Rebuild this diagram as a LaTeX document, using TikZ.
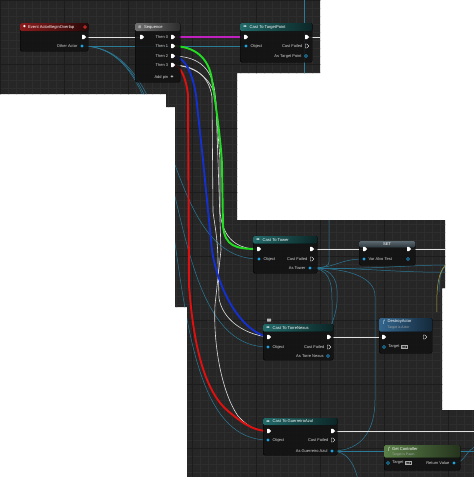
\documentclass[tikz,border=0pt]{standalone}
\usepackage{fontspec}
\setmainfont{Liberation Sans}
\newfontfamily\symfont{DejaVu Sans}
\usepackage{tikz}
\usetikzlibrary{positioning, calc, shapes.symbols}

\definecolor{bggrid}{HTML}{262626}
\definecolor{gridln}{HTML}{2D2D2D}
\definecolor{gridmaj}{HTML}{1C1C1C}
\definecolor{nodebg}{HTML}{131313}
\definecolor{pinblue}{HTML}{1FA3E0}
\definecolor{datawire}{HTML}{2B7A98}
\definecolor{labeltxt}{HTML}{D6D6D6}
\definecolor{evred}{HTML}{8A1C1C}
\definecolor{seqgray}{HTML}{707070}
\definecolor{castteal}{HTML}{226A6A}
\definecolor{setgray}{HTML}{4A5A62}
\definecolor{fnblue}{HTML}{33668F}
\definecolor{fngreen}{HTML}{5B8048}
\definecolor{wgreen}{HTML}{22DD22}
\definecolor{wblue}{HTML}{1530D0}
\definecolor{wred}{HTML}{E01010}
\definecolor{wmag}{HTML}{C020C0}
\definecolor{yelwire}{HTML}{B8A040}

\pgfdeclarelayer{bg}
\pgfdeclarelayer{wires}
\pgfsetlayers{bg,wires,main}

\begin{document}
\begin{tikzpicture}[x=1pt, y=-1pt,
    font=\fontsize{4}{4.5}\selectfont,
    bpbody/.style={draw=black, fill=nodebg, fill opacity=0.9, rounded corners=1.5pt, anchor=north west, inner sep=0pt, line width=0.4pt},
    title/.style={anchor=west, inner sep=0pt, text=white, font=\fontsize{4.1}{4.5}\selectfont},
    subtitle/.style={anchor=west, inner sep=0pt, text=white!65!black, font=\fontsize{3.4}{4}\selectfont},
    icon/.style={anchor=center, inner sep=0pt, text=white, font=\symfont\fontsize{3.6}{4}\selectfont},
    execpin/.style={signal, signal to=east, fill=white, inner sep=0pt, minimum width=4pt, minimum height=4.4pt},
    execopen/.style={execpin, fill=none, draw=white, line width=0.4pt, minimum width=3.6pt, minimum height=4pt},
    datapin/.style={circle, fill=pinblue, inner sep=0pt, minimum size=3.4pt},
    dataopen/.style={circle, draw=pinblue, line width=0.45pt, inner sep=0pt, minimum size=3pt},
    pinlbl/.style={inner sep=0pt, text=labeltxt},
    selfbox/.style={draw=labeltxt!80!black, line width=0.3pt, inner sep=0.5pt, text=labeltxt, font=\fontsize{3}{3.3}\selectfont},
    execwire/.style={white!88!black, line width=0.6pt},
    thickwire/.style={#1, line width=1.9pt},
    dwire/.style={datawire, line width=0.5pt},
    ywire/.style={yelwire, line width=0.5pt}
]
\useasboundingbox (0,0) rectangle (474,477);

% Canvas (cut-out screenshot pieces)
\begin{pgfonlayer}{bg}
\fill[white] (0,0) rectangle (474,477);
\fill[bggrid] (0,0) -- (320,0) -- (320,73) -- (237,73) -- (237,220) -- (445,220) -- (445,288) -- (442,288) -- (442,410) -- (474,410) -- (474,477) -- (187,477) -- (187,307) -- (175,307) -- (175,107) -- (166,107) -- (166,94) -- (0,94) -- cycle;
\begin{scope}
\clip (0,0) -- (320,0) -- (320,73) -- (237,73) -- (237,220) -- (445,220) -- (445,288) -- (442,288) -- (442,410) -- (474,410) -- (474,477) -- (187,477) -- (187,307) -- (175,307) -- (175,107) -- (166,107) -- (166,94) -- (0,94) -- cycle;
\foreach \g in {0,8,...,472} {\draw[gridln, line width=0.25pt] (\g,0) -- (\g,477);}
\foreach \g in {0,8,...,476} {\draw[gridln, line width=0.25pt] (0,\g) -- (474,\g);}
\foreach \g in {0,64,...,448} {\draw[gridmaj, line width=0.4pt] (\g,0) -- (\g,477);}
\foreach \g in {0,64,...,448} {\draw[gridmaj, line width=0.4pt] (0,\g) -- (474,\g);}
\end{scope}
\end{pgfonlayer}

% Event ActorBeginOverlap
\node[bpbody, minimum width=68pt, minimum height=28pt] (ev) at (20,23) {};
\fill[left color=evred, right color=evred!30!black, rounded corners=1.5pt] (ev.north west) rectangle ($(ev.north east)+(0,8)$);
\node[icon] (evicon) at (24.5,27) {◆};
\node[title] (evtitle) at (28,27) {Event ActorBeginOverlap};
\node[circle, fill=red!70!black, draw=red!45!white, line width=0.3pt, inner sep=0pt, minimum size=3pt] (evdot) at (85,27) {};
\node[execpin] (evout) at (83,37) {};
\node[datapin] (evother) at (82,46) {};
\node[pinlbl, left=2.5pt of evother] (evotherlbl) {Other Actor};

% Sequence
\node[bpbody, minimum width=45pt, minimum height=59pt] (seq) at (135,23) {};
\fill[left color=seqgray, right color=seqgray!40!black, rounded corners=1.5pt] (seq.north west) rectangle ($(seq.north east)+(0,8)$);
\node[icon] (seqicon) at (140,27) {⊞};
\node[title] (seqtitle) at (144,27) {Sequence};
\node[execpin] (seqin) at (141,37) {};
\foreach \i/\yy in {0/37,1/46,2/56,3/65} {
    \node[execpin] (seqt\i) at (172,\yy) {};
    \node[pinlbl, left=2.5pt of seqt\i] (seqt\i lbl) {Then \i};
}
\node[inner sep=0pt, text=white, font=\fontsize{5}{5}\selectfont\bfseries] (seqadd) at (172,77) {+};
\node[pinlbl, left=2pt of seqadd] (seqaddlbl) {Add pin};

% Cast To TargetPoint
\node[bpbody, minimum width=72pt, minimum height=39pt] (ctp) at (240,23) {};
\fill[left color=castteal, right color=castteal!35!black, rounded corners=1.5pt] (ctp.north west) rectangle ($(ctp.north east)+(0,8)$);
\node[icon] (ctpicon) at (245,27) {◂▸};
\node[title] (ctptitle) at (249.5,27) {Cast To TargetPoint};
\node[execpin] (ctpin) at (245,37) {};
\node[execpin] (ctpout) at (306,37) {};
\node[datapin] (ctpobj) at (246,46) {};
\node[pinlbl, right=2.5pt of ctpobj] (ctpobjlbl) {Object};
\node[execopen] (ctpfail) at (306,46) {};
\node[pinlbl, left=2.5pt of ctpfail] (ctpfaillbl) {Cast Failed};
\node[dataopen] (ctpas) at (306,56) {};
\node[pinlbl, left=2.5pt of ctpas] (ctpaslbl) {As Target Point};

% Cast To Tower
\node[bpbody, minimum width=64pt, minimum height=37pt] (ctw) at (253,236) {};
\fill[left color=castteal, right color=castteal!35!black, rounded corners=1.5pt] (ctw.north west) rectangle ($(ctw.north east)+(0,7.5)$);
\node[icon] (ctwicon) at (258,240) {◂▸};
\node[title] (ctwtitle) at (262.5,240) {Cast To Tower};
\node[execpin] (ctwin) at (258,249) {};
\node[execpin] (ctwout) at (311,249) {};
\node[datapin] (ctwobj) at (259,259) {};
\node[pinlbl, right=2.5pt of ctwobj] (ctwobjlbl) {Object};
\node[execopen] (ctwfail) at (311,259) {};
\node[pinlbl, left=2.5pt of ctwfail] (ctwfaillbl) {Cast Failed};
\node[datapin] (ctwas) at (310,268) {};
\node[pinlbl, left=2.5pt of ctwas] (ctwaslbl) {As Tower};

% SET
\node[bpbody, minimum width=56pt, minimum height=24pt] (setn) at (359,241) {};
\fill[top color=setgray!90!white, bottom color=setgray!60!black, rounded corners=1.5pt] (setn.north west) rectangle ($(setn.north east)+(0,6.5)$);
\node[title, anchor=center] (settitle) at (387,244.3) {SET};
\node[execpin] (setin) at (364,249) {};
\node[execpin] (setout) at (408,249) {};
\node[datapin] (setvar) at (364,259) {};
\node[pinlbl, right=2.5pt of setvar] (setvarlbl) {Var Alvo Test};
\node[dataopen] (setres) at (408,259) {};

% Cast To TorreNexus
\node[fill=white!72!black, inner sep=0pt, minimum width=4pt, minimum height=3pt, rounded corners=0.4pt] (ctnnote) at (269,320) {};
\node[bpbody, minimum width=70pt, minimum height=36pt] (ctn) at (263,324) {};
\fill[left color=castteal, right color=castteal!35!black, rounded corners=1.5pt] (ctn.north west) rectangle ($(ctn.north east)+(0,7.5)$);
\node[icon] (ctnicon) at (268,328) {◂▸};
\node[title] (ctntitle) at (272.5,328) {Cast To TorreNexus};
\node[execpin] (ctnin) at (268,337) {};
\node[execpin] (ctnout) at (328,337) {};
\node[datapin] (ctnobj) at (268,347) {};
\node[pinlbl, right=2.5pt of ctnobj] (ctnobjlbl) {Object};
\node[execopen] (ctnfail) at (328,347) {};
\node[pinlbl, left=2.5pt of ctnfail] (ctnfaillbl) {Cast Failed};
\node[dataopen] (ctnas) at (328,356) {};
\node[pinlbl, left=2.5pt of ctnas] (ctnaslbl) {As Torre Nexus};

% DestroyActor
\node[bpbody, minimum width=53pt, minimum height=35pt] (dst) at (379,318) {};
\fill[left color=fnblue, right color=fnblue!40!black, rounded corners=1.5pt] (dst.north west) rectangle ($(dst.north east)+(0,13.5)$);
\node[title, font=\fontsize{4.6}{5}\selectfont\itshape] (dstf) at (382.5,322) {ƒ};
\node[title] (dsttitle) at (387.5,322) {DestroyActor};
\node[subtitle] (dstsub) at (387.5,327.5) {Target is Actor};
\node[execpin] (dstin) at (383,337) {};
\node[execopen] (dstout) at (424,337) {};
\node[dataopen] (dsttgt) at (384,347) {};
\node[pinlbl, right=2.5pt of dsttgt] (dsttgtlbl) {Target};
\node[selfbox, right=1.5pt of dsttgtlbl] (dstself) {self};

% Cast To GuerreiroAzul
\node[bpbody, minimum width=74pt, minimum height=37pt] (cga) at (263,418) {};
\fill[left color=castteal, right color=castteal!35!black, rounded corners=1.5pt] (cga.north west) rectangle ($(cga.north east)+(0,7)$);
\node[icon] (cgaicon) at (268,421.5) {◂▸};
\node[title] (cgatitle) at (272.5,421.5) {Cast To GuerreiroAzul};
\node[execpin] (cgain) at (268,431) {};
\node[execpin] (cgaout) at (332,431) {};
\node[datapin] (cgaobj) at (268,440) {};
\node[pinlbl, right=2.5pt of cgaobj] (cgaobjlbl) {Object};
\node[execopen] (cgafail) at (332,440) {};
\node[pinlbl, left=2.5pt of cgafail] (cgafaillbl) {Cast Failed};
\node[datapin] (cgaas) at (332,451) {};
\node[pinlbl, left=2.5pt of cgaas] (cgaaslbl) {As Guerreiro Azul};

% Get Controller
\node[bpbody, minimum width=76pt, minimum height=25pt] (gct) at (384,445) {};
\fill[left color=fngreen, right color=fngreen!40!black, rounded corners=1.5pt] (gct.north west) rectangle ($(gct.north east)+(0,12.5)$);
\node[title, font=\fontsize{4.6}{5}\selectfont\itshape] (gctf) at (387.5,449) {ƒ};
\node[title] (gcttitle) at (392,449) {Get Controller};
\node[subtitle] (gctsub) at (392,454.2) {Target is Pawn};
\node[dataopen] (gcttgt) at (388,463) {};
\node[pinlbl, right=2.5pt of gcttgt] (gcttgtlbl) {Target};
\node[selfbox, right=1.5pt of gcttgtlbl] (gctself) {self};
\node[datapin] (gctret) at (454,463) {};
\node[pinlbl, left=2.5pt of gctret] (gctretlbl) {Return Value};

% Free ends of wires leaving the cut-outs
\coordinate (ctpedge) at (324,37);
\coordinate (setedge) at (449,249);
\coordinate (cgaedge) at (478,431);
\coordinate (tpwireup) at (304,-2);
\coordinate (tpwiredown) at (304,76);
\coordinate (towedgeA) at (449,272);
\coordinate (towedgeB) at (449,265);
\coordinate (towdrop) at (329,216);
\coordinate (gctedge) at (478,451);
\coordinate (gcadown) at (358,480);
\coordinate (retedge) at (478,446);

% Wires
\begin{pgfonlayer}{wires}
\begin{scope}
\clip (0,0) -- (320,0) -- (320,73) -- (237,73) -- (237,220) -- (445,220) -- (445,288) -- (442,288) -- (442,410) -- (474,410) -- (474,477) -- (187,477) -- (187,307) -- (175,307) -- (175,107) -- (166,107) -- (166,94) -- (0,94) -- cycle;
% data wires
\draw[dwire] (evother.center) -- (ctpobj.center);
\draw[dwire] (evother.center) .. controls +(100,0) and +(-100,0) .. (ctwobj.center);
\draw[dwire] (evother.center) .. controls +(115,0) and +(-115,0) .. (ctnobj.center);
\draw[dwire] (evother.center) .. controls +(130,0) and +(-130,0) .. (cgaobj.center);
\draw[dwire] (tpwireup) -- (tpwiredown);
\draw[dwire] (ctwas.center) .. controls (338,268) and (338,259) .. (setvar.center);
\draw[dwire] (ctwas.center) .. controls (370,268) and (400,273) .. (towedgeA);
\draw[dwire] (ctwas.center) .. controls (365,270) and (405,265) .. (towedgeB);
\draw[dwire] (ctwas.center) .. controls (328,268) and (332,280) .. (332,300) -- (332,328);
\draw[dwire] (ctwas.center) .. controls (336,268) and (338,282) .. (337,302) .. controls (336,314) and (333,320) .. (331,326);
\draw[dwire] (towdrop) -- (329,262) .. controls (329,266) and (325,268) .. (ctwas.center);
\draw[dwire] (cgaas.center) .. controls (362,451) and (375,430) .. (375,400) -- (375,296) .. controls (375,278) and (350,268) .. (ctwas.center);
\draw[dwire] (cgaas.center) -- (gctedge);
\draw[dwire] (cgaas.center) .. controls (346,451) and (354,462) .. (gcadown);
\draw[dwire] (gctret.center) .. controls (466,463) and (465,449) .. (retedge);
\draw[dwire] (439,292) .. controls (439,275) and (442,266) .. (towedgeB);
\draw[ywire] (449,262) .. controls (439,268) and (436,284) .. (437,312);
% exec wires
\draw[execwire] (evout.center) -- (seqin.center);
\draw[wmag, line width=1.2pt] (seqt0.center) -- (ctpin.center);
\draw[execwire] (ctpout.center) -- (ctpedge);
\draw[execwire] (ctwout.center) -- (setin.center);
\draw[execwire] (setout.center) -- (setedge);
\draw[execwire] (ctnout.center) -- (dstin.center);
\draw[execwire] (cgaout.center) -- (cgaedge);
\draw[execwire] (seqt2.center) .. controls (196,56) and (212,66) .. (215,93) -- (220,160) -- (220,212) .. controls (223,240) and (238,249) .. (ctwin.center);
\draw[execwire] (seqt3.center) .. controls (195,65) and (209,76) .. (212,97) -- (213,212) .. controls (216,232) and (218,245) .. (218,262) -- (219,298) .. controls (222,318) and (242,334) .. (ctnin.center);
\draw[execwire] (seqt3.center) .. controls (199,66) and (214,82) .. (216,102) -- (221,250) -- (215,305) .. controls (213,345) and (222,393) .. (238,416) .. controls (247,426) and (256,431) .. (cgain.center);
\draw[thickwire=wgreen] (seqt1.center) .. controls (195,46) and (209,58) .. (212,80) .. controls (215,100) and (221,140) .. (222,165) -- (223,226) .. controls (225,246) and (235,249) .. (ctwin.center);
\draw[thickwire=wblue] (seqt2.center) .. controls (186,56) and (193,76) .. (196,95) -- (203,160) -- (212,250) .. controls (217,285) and (238,330) .. (ctnin.center);
\draw[thickwire=wred] (seqt3.center) .. controls (181,65) and (186,78) .. (188,95) -- (189,285) .. controls (193,340) and (203,390) .. (228,411) .. controls (240,421) and (252,431) .. (cgain.center);
\end{scope}
\end{pgfonlayer}

\end{tikzpicture}
\end{document}
